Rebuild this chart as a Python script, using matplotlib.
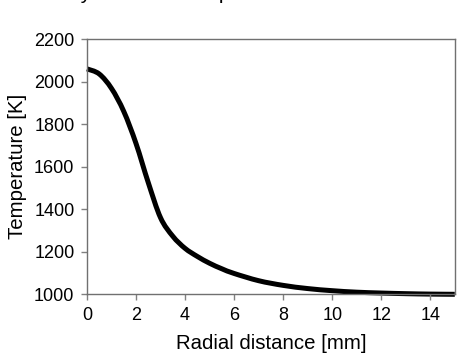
import numpy as np
import matplotlib.pyplot as plt
from matplotlib.path import Path
from matplotlib.patches import PathPatch

# radial temperature profile
r_mm = [0, 0.5, 1.0, 1.5, 2.0, 2.5, 3.0, 3.5, 4.0, 4.5, 5.0, 5.5, 6.0,
        7, 8, 9, 10, 11, 12, 13, 14, 15]
temp_K = [2060, 2036, 1968, 1860, 1709, 1525, 1360, 1273, 1216, 1178, 1146, 1120, 1098,
          1064, 1042, 1027, 1017, 1010, 1006, 1003, 1001, 1000]

x_ticks = [0, 2, 4, 6, 8, 10, 12, 14]
y_ticks = [1000, 1200, 1400, 1600, 1800, 2000, 2200]

plt.rcParams['font.family'] = ['Liberation Sans', 'DejaVu Sans']

fig = plt.figure(figsize=(4.74, 3.62), dpi=100)
ax = fig.add_axes([0.1835, 0.187, 0.776, 0.705])

# smoothed line like a spreadsheet "smooth line": cubic bezier segments
# passing through each data point (Catmull-Rom style control points)
P = np.column_stack([r_mm, temp_K]).astype(float)
Pe = np.vstack([P[0], P, P[-1]])
verts = [P[0]]
codes = [Path.MOVETO]
for i in range(len(P) - 1):
    p0, p1, p2, p3 = Pe[i], Pe[i+1], Pe[i+2], Pe[i+3]
    verts += [p1 + (p2 - p0) / 6, p2 - (p3 - p1) / 6, p2]
    codes += [Path.CURVE4] * 3
ax.add_patch(PathPatch(Path(verts, codes), facecolor='none', edgecolor='black',
                       linewidth=3.6, joinstyle='round', capstyle='butt',
                       clip_on=False))

ax.set_xlim(0, 15)
ax.set_ylim(1000, 2200)
ax.set_xticks(x_ticks)
ax.set_yticks(y_ticks)
ax.tick_params(direction='out', length=4, width=1, color='#808080',
               labelsize=13, pad=5)
for s in ax.spines.values():
    s.set_color('#707070')
    s.set_linewidth(1)

ax.set_xlabel('Radial distance [mm]', fontsize=14.7, labelpad=7)
ax.set_ylabel('Temperature [K]', fontsize=14.7, labelpad=5)

# title is cut off at the top edge in the original, only descenders show
fig.text(0.055, 1.0 + 1.0 / 362, 'Steady-state arc temperature', fontsize=15,
         va='baseline', ha='left')

fig.savefig('out.png', dpi=100)
